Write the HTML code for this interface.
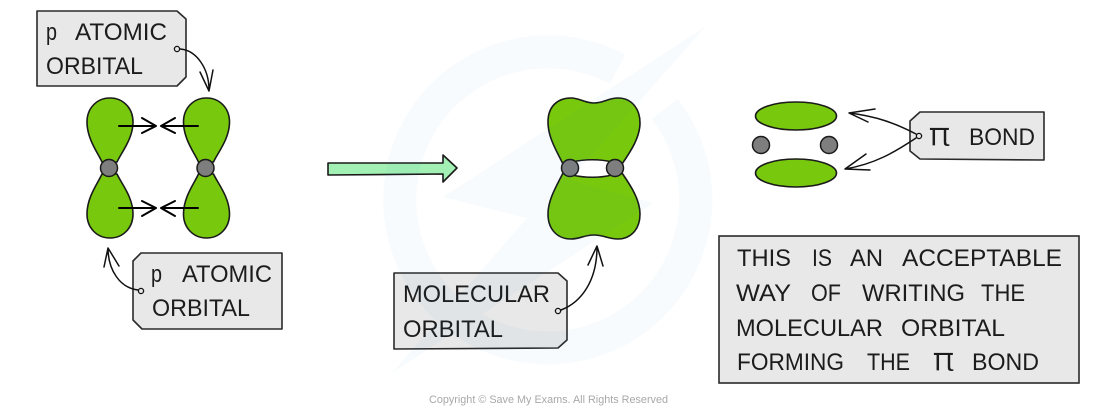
<!DOCTYPE html>
<html><head><meta charset="utf-8"><style>
html,body{margin:0;padding:0;background:#fff;width:1100px;height:418px;overflow:hidden}
svg{display:block}
text{font-family:"Liberation Sans",sans-serif;font-size:24px;fill:#1c1c1c}
text.pi{font-family:"DejaVu Sans",sans-serif;font-size:34px;stroke:#e8e8e8;stroke-width:0.9}
.tag{fill:#e8e8e8;stroke:#2a2a2a;stroke-width:1.6;stroke-linejoin:round}
.ol{stroke:#1a1a1a;stroke-width:1.6;stroke-linejoin:round}
.g{fill:#78c90d}
.atom{fill:#7e7e7e;stroke:#1a1a1a;stroke-width:1.5}
.ln{fill:none;stroke:#111;stroke-width:1.5;stroke-linecap:round;stroke-linejoin:round}
.ar{fill:none;stroke:#000;stroke-width:2;stroke-linecap:round;stroke-linejoin:round}
</style></head><body>
<svg width="1100" height="418" viewBox="0 0 1100 418" xmlns="http://www.w3.org/2000/svg">
<defs>
<path id="lobe" d="M102,162 C98,153 87,139 87,122 C87,108 97,98 110,98 C123,98 133,108 133,122 C133,139 121,153 117,162 Z"/>
</defs>

<!-- left p orbitals -->
<g class="g ol">
<use href="#lobe"/>
<use href="#lobe" transform="translate(0,336) scale(1,-1)"/>
<use href="#lobe" transform="translate(96.5,0)"/>
<use href="#lobe" transform="translate(96.5,336) scale(1,-1)"/>
</g>
<circle class="atom" cx="109" cy="168" r="8.5"/>
<circle class="atom" cx="205.5" cy="168" r="8.5"/>
<g class="ar">
<path d="M119,126 H156 M142,118 L156,126 L142,133"/>
<path d="M198,126 H161 M175,118 L161,126 L175,133"/>
<path d="M119,208 H156 M142,201 L156,208 L142,216"/>
<path d="M198,208 H161 M175,201 L161,208 L175,216"/>
</g>

<!-- tag 1 -->
<path class="tag" d="M37,11 H177 L186,19 V77 L177,86 H37 Z"/>
<text x="46" y="40" textLength="11" lengthAdjust="spacingAndGlyphs">p</text>
<text x="75" y="40" textLength="92" lengthAdjust="spacingAndGlyphs">ATOMIC</text>
<text x="46" y="74" textLength="97" lengthAdjust="spacingAndGlyphs">ORBITAL</text>
<circle cx="177" cy="49" r="2.6" fill="#e8e8e8" stroke="#111" stroke-width="1.3"/>
<path class="ln" d="M180,49 C196,50 209,68 209,90 M200,72 L209,91 L213,70"/>

<!-- tag 2 -->
<path class="tag" d="M141,253 H282 V329 H142 L133,320 V261 Z"/>
<text x="151" y="282" textLength="11" lengthAdjust="spacingAndGlyphs">p</text>
<text x="182" y="282" textLength="90" lengthAdjust="spacingAndGlyphs">ATOMIC</text>
<text x="152" y="316" textLength="98" lengthAdjust="spacingAndGlyphs">ORBITAL</text>
<circle cx="141" cy="291" r="2.6" fill="#e8e8e8" stroke="#111" stroke-width="1.3"/>
<path class="ln" d="M138,290 C120,288 108,270 108,248 M104,267 L108,248 L119,266"/>

<!-- big arrow -->
<path d="M328,163 H443 V155 L457,168 L443,182 V174 L328,175 Z" fill="#a2f0b4" stroke="#1a1a1a" stroke-width="1.6" stroke-linejoin="round"/>

<!-- molecular orbital -->
<path class="g ol" d="M563,164 C556,150 548,137 548,122 C548,106 558,98 571,98 C580,98 584,103 594,103 C604,103 608,98 618,98 C631,98 640,108 640,123 C640,137 631,151 622,164 V173 C631,186 640,200 640,214 C640,230 630,239 618,239 C608,239 604,235 594,235 C584,235 580,239 571,239 C558,239 548,230 548,214 C548,200 556,187 563,173 Z"/>
<path d="M572,162 C585,159 600,159 612,162 V175 C600,178 585,178 572,175 Z" fill="#fff" stroke="#1a1a1a" stroke-width="1.5"/>
<circle class="atom" cx="570" cy="168" r="8.5"/>
<circle class="atom" cx="615" cy="168" r="8.5"/>

<!-- tag 3 -->
<path class="tag" d="M394,273 H558 L567,281 V340 L558,348 L394,349 Z"/>
<text x="403" y="302" textLength="147" lengthAdjust="spacingAndGlyphs">MOLECULAR</text>
<text x="403" y="337" textLength="100" lengthAdjust="spacingAndGlyphs">ORBITAL</text>
<circle cx="558" cy="311" r="2.6" fill="#e8e8e8" stroke="#111" stroke-width="1.3"/>
<path class="ln" d="M561,310 C582,302 597,280 597,247 M588,265 L597,246 L603,266"/>

<!-- pi bond diagram -->
<ellipse class="g ol" cx="796" cy="116" rx="40.5" ry="14"/>
<ellipse class="g ol" cx="796" cy="173" rx="40.5" ry="14"/>
<circle class="atom" cx="761" cy="145" r="8.5"/>
<circle class="atom" cx="829" cy="145" r="8.5"/>

<!-- tag 4 -->
<path class="tag" d="M920,112 H1044 V160 L920,159 L910,151 V121 Z"/>
<text class="pi" x="928" y="146" textLength="23" lengthAdjust="spacingAndGlyphs">π</text>
<text x="969" y="145" textLength="66" lengthAdjust="spacingAndGlyphs">BOND</text>
<circle cx="919" cy="136" r="2.6" fill="#e8e8e8" stroke="#111" stroke-width="1.3"/>
<path class="ln" d="M916,134 C895,123 875,116 849,113 M875,109 L849,113 L868,122"/>
<path class="ln" d="M916,138 C895,152 875,164 845,169 M866,154 L845,169 L870,170"/>

<!-- note box -->
<rect x="719" y="236" width="360" height="147" fill="#e8e8e8" stroke="#2a2a2a" stroke-width="1.6"/>
<text x="737" y="266" textLength="54" lengthAdjust="spacingAndGlyphs">THIS</text>
<text x="812" y="266" textLength="20" lengthAdjust="spacingAndGlyphs">IS</text>
<text x="850" y="266" textLength="33" lengthAdjust="spacingAndGlyphs">AN</text>
<text x="902" y="266" textLength="160" lengthAdjust="spacingAndGlyphs">ACCEPTABLE</text>
<text x="736" y="301" textLength="55" lengthAdjust="spacingAndGlyphs">WAY</text>
<text x="811" y="301" textLength="30" lengthAdjust="spacingAndGlyphs">OF</text>
<text x="862" y="301" textLength="103" lengthAdjust="spacingAndGlyphs">WRITING</text>
<text x="981" y="301" textLength="44" lengthAdjust="spacingAndGlyphs">THE</text>
<text x="736" y="336" textLength="147" lengthAdjust="spacingAndGlyphs">MOLECULAR</text>
<text x="901" y="336" textLength="104" lengthAdjust="spacingAndGlyphs">ORBITAL</text>
<text x="737" y="370" textLength="107" lengthAdjust="spacingAndGlyphs">FORMING</text>
<text x="867" y="370" textLength="43" lengthAdjust="spacingAndGlyphs">THE</text>
<text class="pi" x="932" y="371" textLength="23" lengthAdjust="spacingAndGlyphs">π</text>
<text x="972" y="370" textLength="67" lengthAdjust="spacingAndGlyphs">BOND</text>

<!-- watermark -->
<g opacity="0.03" fill="#1f8fc8">
<path d="M664.6,109 A148,148 0 1 1 617.5,69.3" fill="none" stroke="#1f8fc8" stroke-width="33"/>
<path d="M705,27 L443,197 L527,218 L392,373 L653,203 L570,180 Z"/>
</g>

<text x="548.5" y="403" text-anchor="middle" style="font-size:11px;fill:#a8a8a8" textLength="239" lengthAdjust="spacingAndGlyphs">Copyright © Save My Exams. All Rights Reserved</text>
</svg>
</body></html>
